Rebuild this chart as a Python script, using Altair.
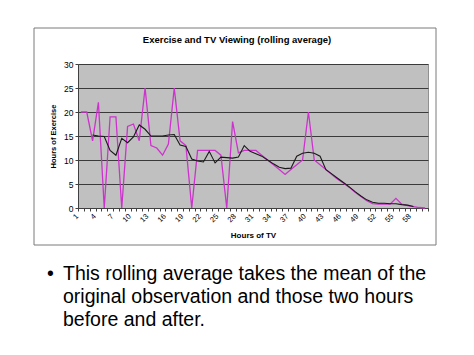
import altair as alt
import pandas as pd

# ---------------- data ----------------
hours = list(range(1, 61))
exercise = [20, 20, 14, 22, 0, 19, 19, 0, 17, 17.5,
            14, 25, 13, 12.5, 11, 13.3, 25, 14, 13, 0,
            12, 12, 12, 12, 11, 0, 18, 11.5, 12, 12,
            12, 11, 10, 9, 8, 7, 8, 9, 10, 20,
            10, 9, 8, 7, 6, 5.2, 4.3, 3.3, 2.4, 1.5,
            0.9, 0.8, 0.8, 0.8, 2.0, 0.8, 0.5, 0.3, 0.1, 0]
rolling = [None, None, 15.2, 15.0, 14.9, 12.0, 11.0, 14.5, 13.6, 14.8,
           17.3, 16.4, 15.0, 15.0, 15.0, 15.2, 15.3, 13.1, 12.8, 10.2,
           9.8, 9.6, 11.8, 9.4, 10.6, 10.5, 10.4, 10.6, 13.0, 11.8,
           11.3, 10.8, 10.0, 9.2, 8.5, 8.2, 8.3, 10.8, 11.4, 11.6,
           11.4, 10.8, 8.0, 7.1, 6.2, 5.3, 4.4, 3.4, 2.5, 1.7,
           1.2, 1.0, 1.0, 0.9, 0.9, 0.7, 0.6, 0.3, None, None]
y_ticks = [0, 5, 10, 15, 20, 25, 30]
chart_title = "Exercise and TV Viewing (rolling average)"
x_title = "Hours of TV"
y_title = "Hours of Exercise"
caption_lines = ["This rolling average takes the mean of the",
                 "original observation and those two hours",
                 "before and after."]

df = pd.DataFrame({"hours": hours, "exercise": exercise, "rolling": rolling})
one = pd.DataFrame({"k": [0]})

FONT = "Arial"
AXIS_DARK = "#404040"

x_enc = alt.X(
    "hours:O",
    scale=alt.Scale(type="band", domain=hours, paddingInner=0, paddingOuter=0),
    bandPosition=0.5,
    axis=alt.Axis(
        title=x_title,
        labelExpr="(datum.value - 1) % 3 == 0 ? datum.label : ''",
        labelAngle=315, labelAlign="right", labelBaseline="middle",
        labelFontSize=7.5, labelFont=FONT, labelColor="#000000",
        labelPadding=4, labelOffset=-4, labelOverlap=False,
        tickBand="extent", tickSize=3, tickColor=AXIS_DARK, domainColor=AXIS_DARK,
        grid=False,
        titleFontSize=8, titleFontWeight="bold", titleFont=FONT, titleColor="#000000",
        titleX=175, titleY=27, titleBaseline="middle", titleAlign="center",
    ),
)


def y_enc(field):
    return alt.Y(
        f"{field}:Q",
        scale=alt.Scale(domain=[0, 30], nice=False, zero=True),
        axis=alt.Axis(
            title=y_title, values=y_ticks, grid=True,
            gridColor="#3a3a3a", gridWidth=1,
            tickSize=3, tickColor=AXIS_DARK, domainColor=AXIS_DARK,
            labelFontSize=8.5, labelFont=FONT, labelColor="#000000", labelPadding=2,
            titleFontSize=7.5, titleFontWeight="bold", titleFont=FONT, titleColor="#000000",
            titleAngle=270, titleX=-25, titleY=72, titleBaseline="middle", titleAlign="center",
        ),
    )


base = alt.Chart(df)

exercise_line = base.mark_line(color="#CC33CC", strokeWidth=1.3).encode(
    x=x_enc, y=y_enc("exercise")
)
rolling_line = base.mark_line(color="#1a1a1a", strokeWidth=1.1).encode(
    x=x_enc, y=y_enc("rolling")
)

border = alt.Chart(one).mark_rect(fill="transparent", stroke="#7a7a7a", strokeWidth=1).encode(
    x=alt.value(-44), x2=alt.value(358), y=alt.value(-36), y2=alt.value(181)
)

title_mark = alt.Chart(one).mark_text(
    text=chart_title, font=FONT, fontSize=9.5, fontWeight="bold",
    align="center", baseline="middle", color="#000000"
).encode(x=alt.value(159), y=alt.value(-24))

bullet = alt.Chart(one).mark_text(
    text="\u2022", font=FONT, fontSize=19.5, align="left", baseline="alphabetic", color="#000000"
).encode(x=alt.value(-31), y=alt.value(215.5))

caption = alt.Chart(one).mark_text(
    text=caption_lines, font=FONT, fontSize=19.5, lineHeight=23,
    align="left", baseline="alphabetic", color="#000000"
).encode(x=alt.value(-15), y=alt.value(215.5))

chart = alt.layer(
    border, exercise_line, rolling_line, title_mark, bullet, caption
).properties(
    width=350, height=144,
    background="white",
    autosize=alt.AutoSizeParams(type="none"),
    padding={"left": 78, "top": 64, "right": 46, "bottom": 147},
).configure_view(
    fill="#C0C0C0", stroke="#909090"
)

chart.save("out.html", embed_options={"renderer": "svg", "actions": False})
